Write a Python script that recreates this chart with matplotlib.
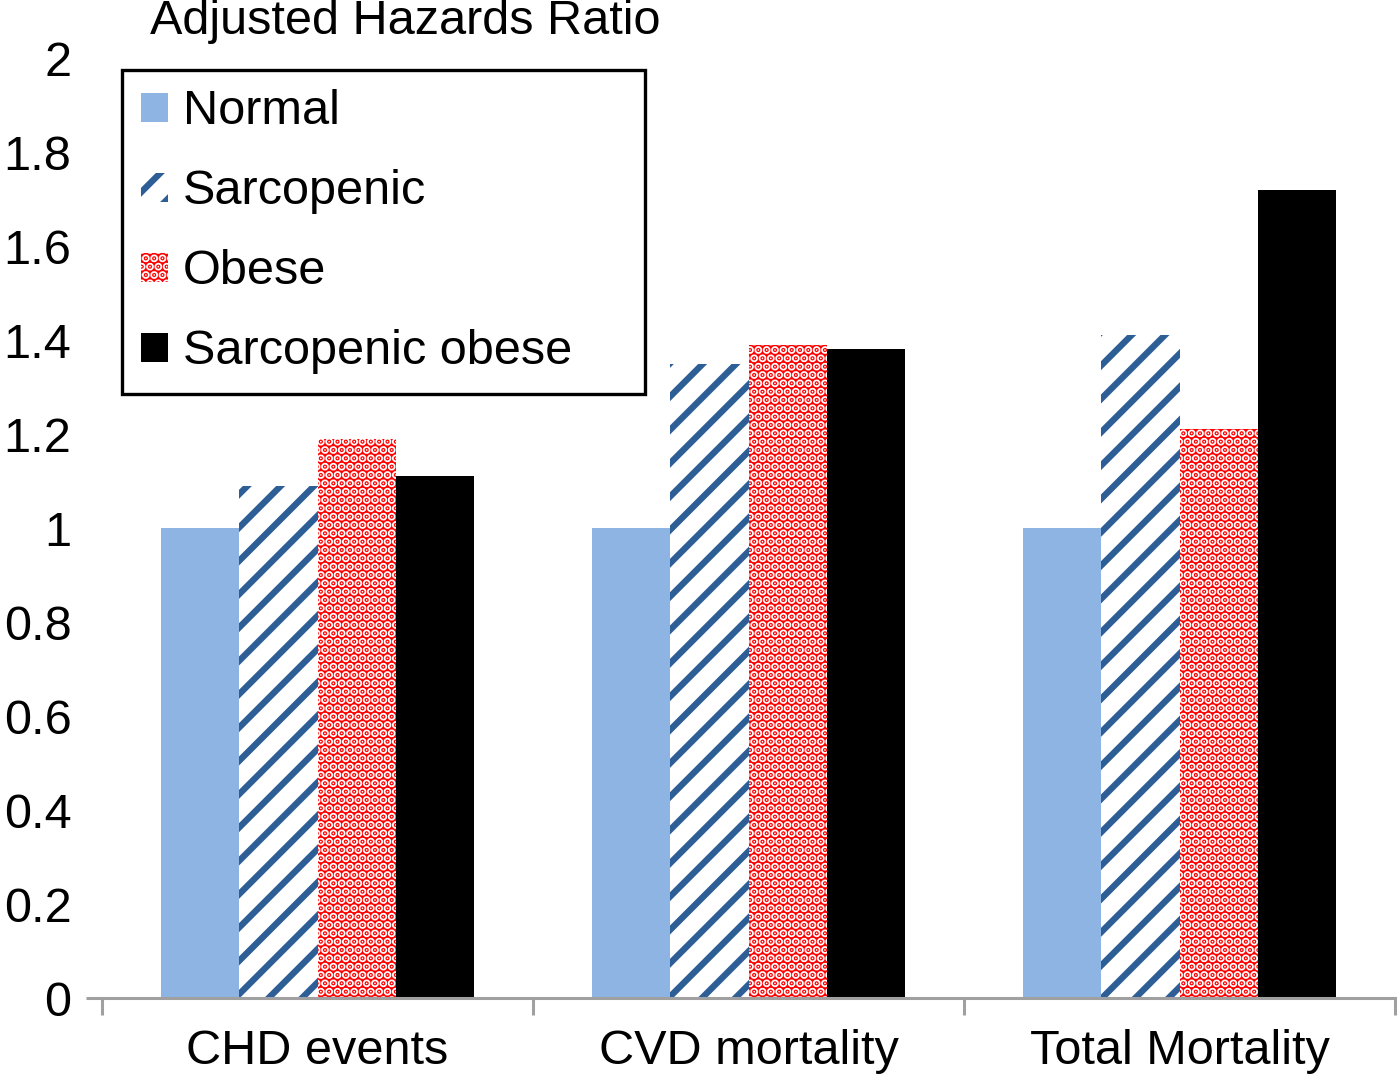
#!/usr/bin/env python3
# -*- coding: utf-8 -*-

"""Adjusted hazards ratio by body composition group (grouped bars)."""

import numpy as np
import matplotlib
matplotlib.use("Agg")
import matplotlib.pyplot as plt


# ---------- Data ----------
categories = ["CHD events", "CVD mortality", "Total Mortality"]
groups     = ["Normal", "Sarcopenic", "Obese", "Sarcopenic obese"]

normal            = [1.00, 1.00, 1.00]
sarcopenic        = [1.09, 1.35, 1.41]
obese             = [1.19, 1.39, 1.21]
sarcopenic_obese  = [1.11, 1.38, 1.72]

y_ticks = [0, 0.2, 0.4, 0.6, 0.8, 1, 1.2, 1.4, 1.6, 1.8, 2]
y_tick_labels = ["0", "0.2", "0.4", "0.6", "0.8", "1", "1.2", "1.4", "1.6", "1.8", "2"]


# ---------- Style ----------
plt.rcParams["font.family"] = ["Liberation Sans", "DejaVu Sans"]

FS = 35
AXIS_GREY = "#a0a0a0"

# face, hatch colour (edgecolor), pattern, hatch line width in pt
styles = [
    dict(facecolor="#8eb4e3", edgecolor="#8eb4e3", hatch=None, hlw=1.0),
    dict(facecolor="white", edgecolor="#2e5e96", hatch="/", hlw=4.6),
    dict(facecolor="#ff0000", edgecolor="white", hatch="..", hlw=4.3),
    dict(facecolor="black", edgecolor="black", hatch=None, hlw=1.0),
]


def set_hlw(artist, lw):
    # per-patch hatch width (mpl >= 3.10), fall back to private attr
    if hasattr(artist, "set_hatch_linewidth"):
        artist.set_hatch_linewidth(lw)
    else:
        artist._hatch_linewidth = lw


fig = plt.figure(figsize=(14, 10.81), dpi=100)
ax = fig.add_axes([102 / 1400, 1 - 998 / 1081, 1293 / 1400, 940 / 1081])

x = np.arange(len(categories))
bar_w = 0.1816
series = [normal, sarcopenic, obese, sarcopenic_obese]
for i, (name, vals, st) in enumerate(zip(groups, series, styles)):
    offs = (i - 1.5) * bar_w
    bars = ax.bar(x + offs, vals, width=bar_w, label=name, linewidth=0,
                  facecolor=st["facecolor"], edgecolor=st["edgecolor"], hatch=st["hatch"])
    for p in bars:
        set_hlw(p, st["hlw"])

ax.set_xlim(-0.5, len(categories) - 0.5)
ax.set_ylim(0, 2)

# ---------- Axes ----------
for s in ("left", "right", "top"):
    ax.spines[s].set_visible(False)
ax.spines["bottom"].set_color(AXIS_GREY)
ax.spines["bottom"].set_linewidth(2.2)

ax.set_yticks(y_ticks)
ax.set_yticklabels(y_tick_labels, fontsize=FS)
ax.tick_params(axis="y", length=0, pad=22)

ax.set_xticks(x)
ax.set_xticklabels(categories, fontsize=FS)
ax.set_xticks(np.arange(len(categories) + 1) - 0.5, minor=True)
ax.tick_params(axis="x", which="major", length=0, pad=22)
ax.tick_params(axis="x", which="minor", length=12, width=2.2, color=AXIS_GREY, direction="out")

# small stub of the x axis to the left of the plot area
ax.plot([-0.012, 0], [0, 0], transform=ax.transAxes, color=AXIS_GREY,
        linewidth=2.2, clip_on=False, solid_capstyle="butt")

fig.text(150 / 1400, 1 - 22 / 1081, "Adjusted Hazards Ratio", fontsize=FS,
         ha="left", va="center")

# legend box spans 122..645 px wide in the reference
leg_box = (122 / 1400, 1 - 70 / 1081, 523 / 1400, 0.0)
leg = ax.legend(loc="upper left", bbox_to_anchor=leg_box, mode="expand",
                bbox_transform=fig.transFigure, fontsize=FS, frameon=True,
                fancybox=False, framealpha=1, handlelength=0.55, handleheight=0.55,
                handletextpad=0.3, labelspacing=0.72, borderpad=0.4,
                borderaxespad=0)
leg.get_frame().set_edgecolor("black")
leg.get_frame().set_linewidth(2.4)
for h, st in zip(leg.legend_handles, styles):
    set_hlw(h, st["hlw"])

fig.savefig("out.png", dpi=100)
print("saved out.png")
